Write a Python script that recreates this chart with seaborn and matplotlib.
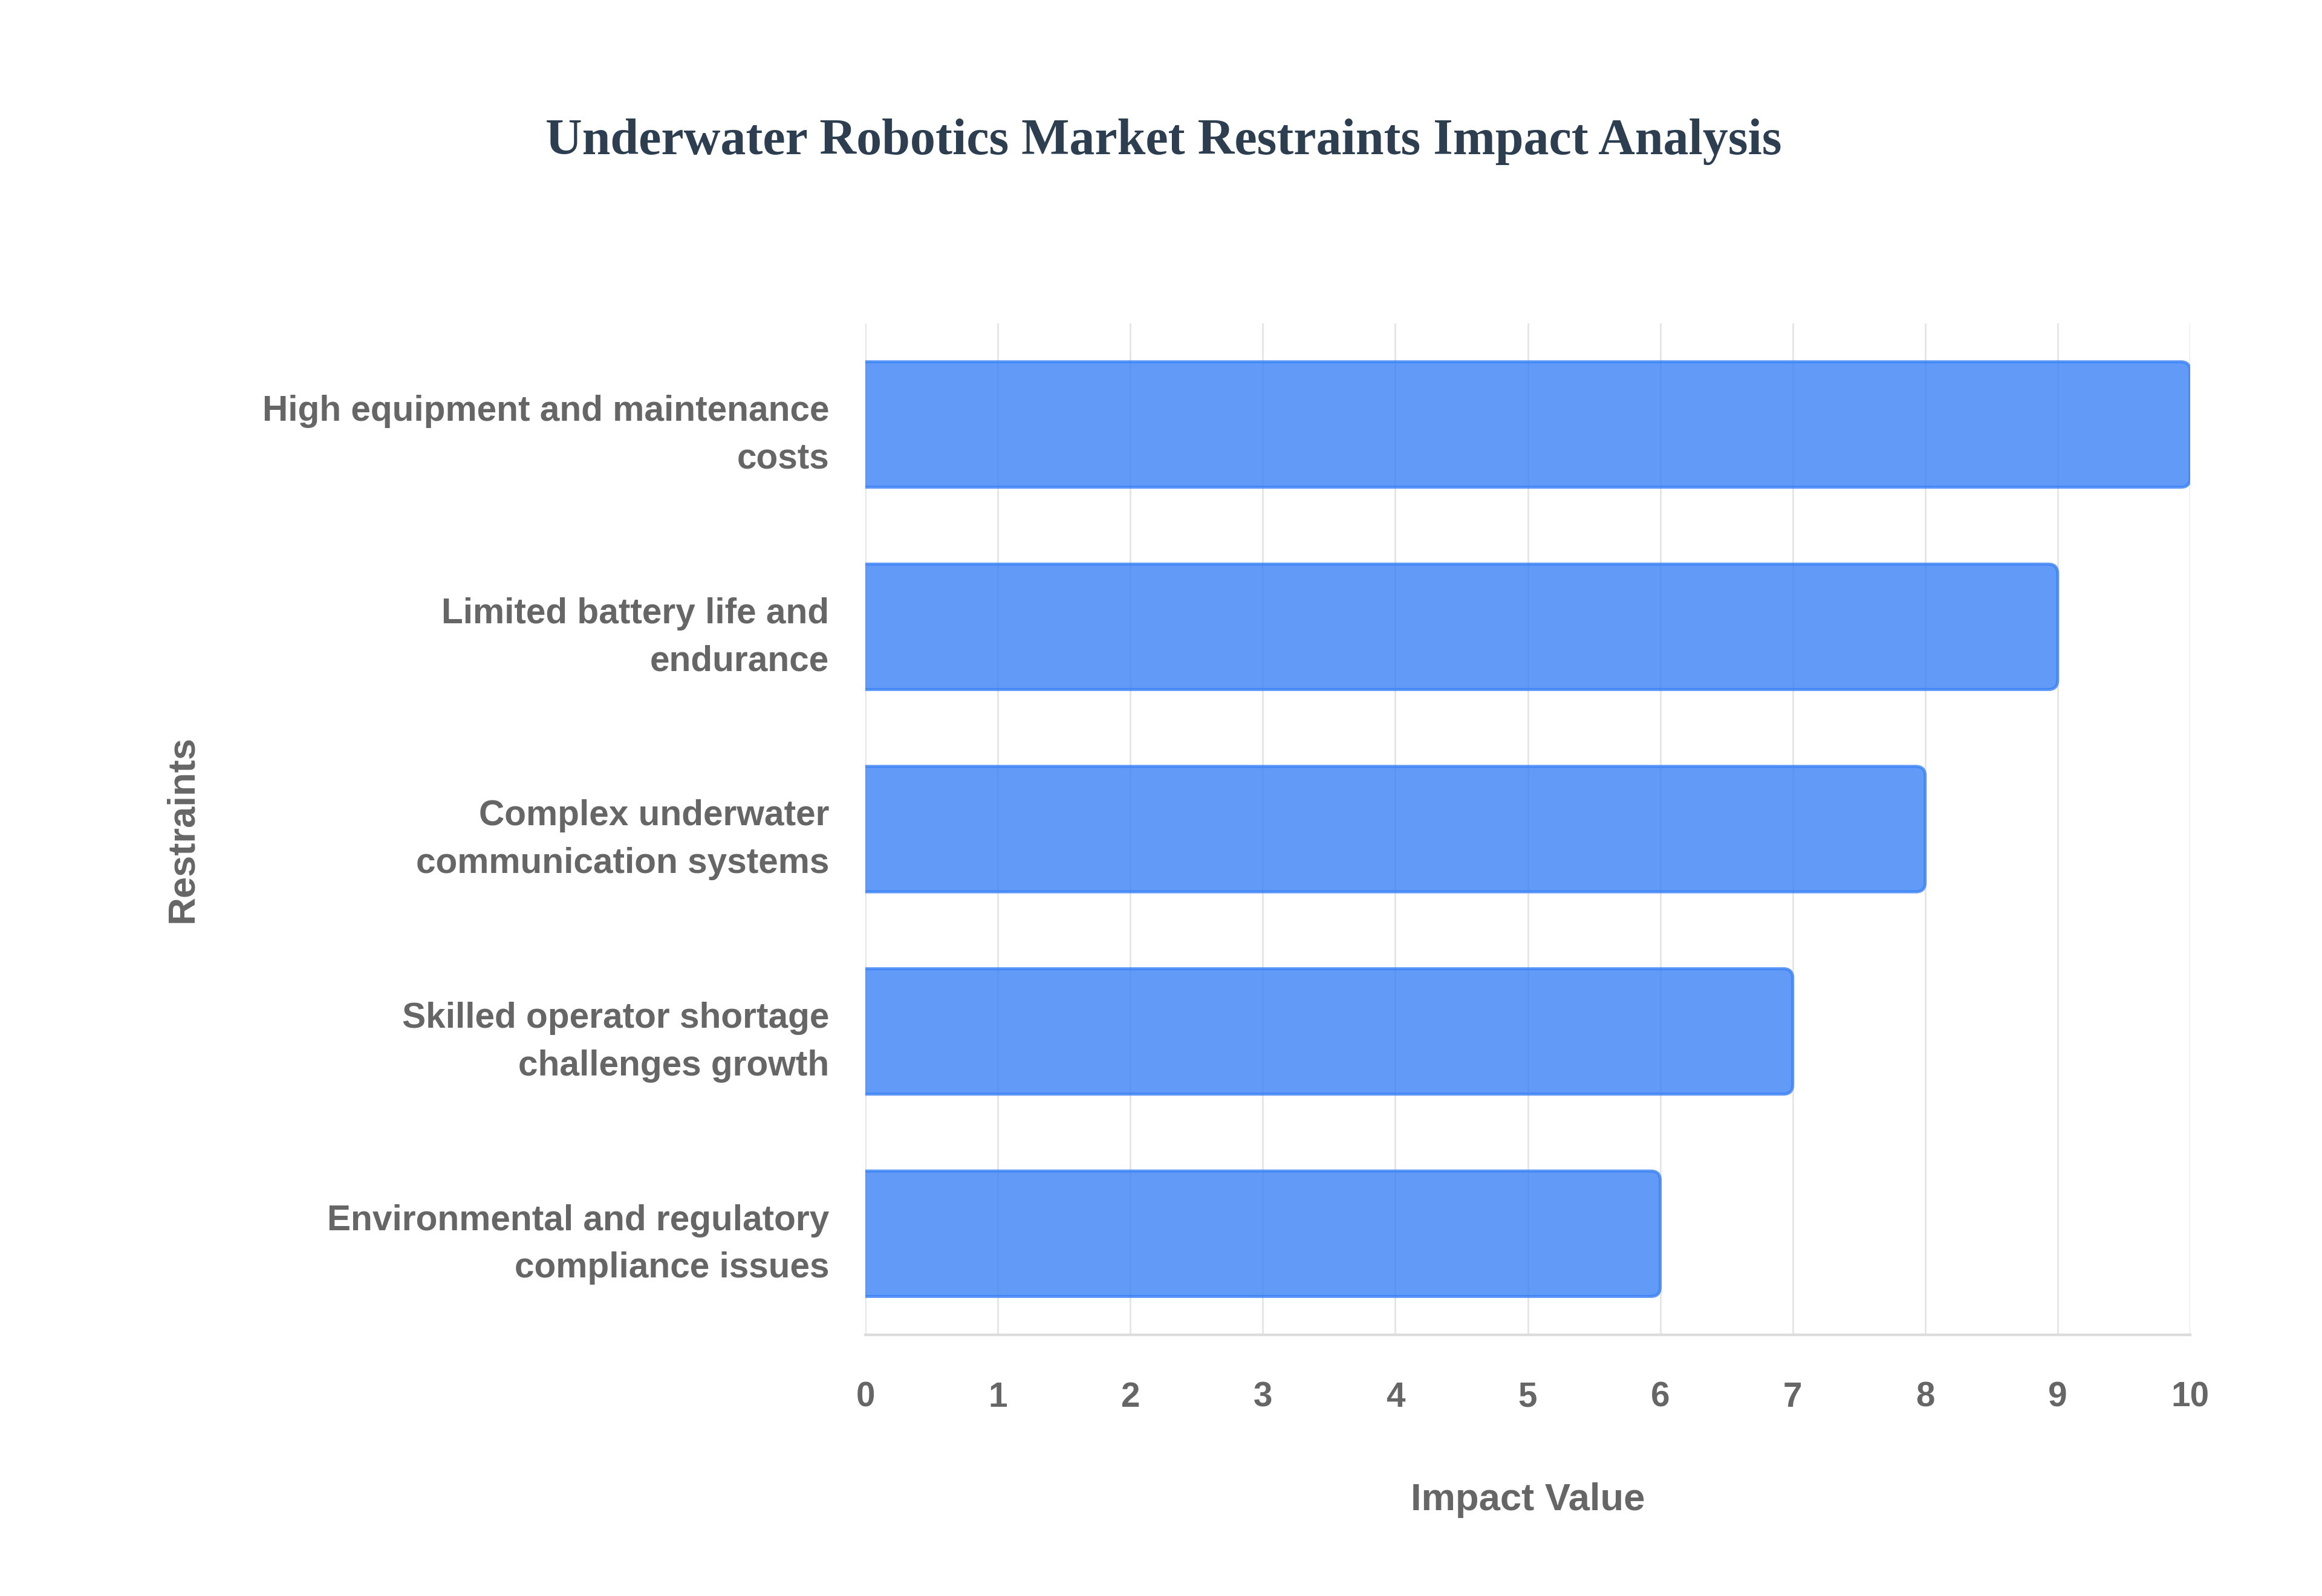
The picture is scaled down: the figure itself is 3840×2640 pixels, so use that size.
import textwrap

import matplotlib.pyplot as plt
import pandas as pd
import seaborn as sns
from matplotlib.patches import FancyBboxPatch

# data
restraints = [
    "High equipment and maintenance costs",
    "Limited battery life and endurance",
    "Complex underwater communication systems",
    "Skilled operator shortage challenges growth",
    "Environmental and regulatory compliance issues",
]
impact_values = [10, 9, 8, 7, 6]
x_ticks = [0, 1, 2, 3, 4, 5, 6, 7, 8, 9, 10]

df = pd.DataFrame({"Restraint": [textwrap.fill(r, 30) for r in restraints],
                   "Impact": impact_values})

sns.set_theme(style="white")
plt.rcParams["font.family"] = ["Liberation Sans", "DejaVu Sans"]

fig = plt.figure(figsize=(16, 11), dpi=240)
ax = fig.add_axes([0.3727, 0.1636, 0.5705, 0.6338])

sns.barplot(data=df, x="Impact", y="Restraint", orient="h", ax=ax,
            color="#3b82f6", width=0.62, zorder=3)

# swap the plain bars for rounded ones (square look on the left, clipped by the axis)
radius_x = 0.07
for p in list(ax.patches):
    x0, y0, w, h = p.get_x(), p.get_y(), p.get_width(), p.get_height()
    rb = FancyBboxPatch((x0 - radius_x, y0), w + radius_x, h,
                        boxstyle=f"round,pad=0,rounding_size={radius_x}",
                        mutation_aspect=0.66,
                        facecolor="#3b82f6", alpha=0.8,
                        edgecolor="#3b82f6", linewidth=1.5, zorder=3)
    rb.set_clip_on(True)
    ax.add_patch(rb)
    p.remove()

ax.set_xlim(0, 10)
ax.set_ylim(4.5, -0.5)
ax.set_xticks(x_ticks)

ax.grid(axis="x", color="#e6e6e6", linewidth=0.9, zorder=0)
ax.grid(axis="y", visible=False)
for side in ["top", "right", "left"]:
    ax.spines[side].set_visible(False)
ax.spines["bottom"].set_color("#dcdcdc")
ax.spines["bottom"].set_linewidth(1.3)
ax.spines["bottom"].set_zorder(1)

ax.tick_params(axis="x", length=8, width=0.9, color="#e6e6e6", pad=15,
               labelsize=17, labelcolor="#666666")
ax.tick_params(axis="y", length=0, pad=18, labelsize=17.6, labelcolor="#666666")
for lbl in ax.get_xticklabels() + ax.get_yticklabels():
    lbl.set_fontweight("bold")
for lbl in ax.get_yticklabels():
    lbl.set_linespacing(1.55)

ax.set_xlabel("Impact Value", fontsize=19, fontweight="bold", color="#666666")
ax.set_ylabel("Restraints", fontsize=19, fontweight="bold", color="#666666")
ax.xaxis.set_label_coords(0.5, -0.146)
ax.yaxis.set_label_coords(-0.502, 0.5)

fig.text(0.501, 0.911, "Underwater Robotics Market Restraints Impact Analysis",
         ha="center", va="center", fontsize=25.2, fontweight="bold",
         color="#2c3e50", family=["Liberation Serif", "DejaVu Serif"])

fig.savefig("out.png", dpi=240, facecolor="white")
